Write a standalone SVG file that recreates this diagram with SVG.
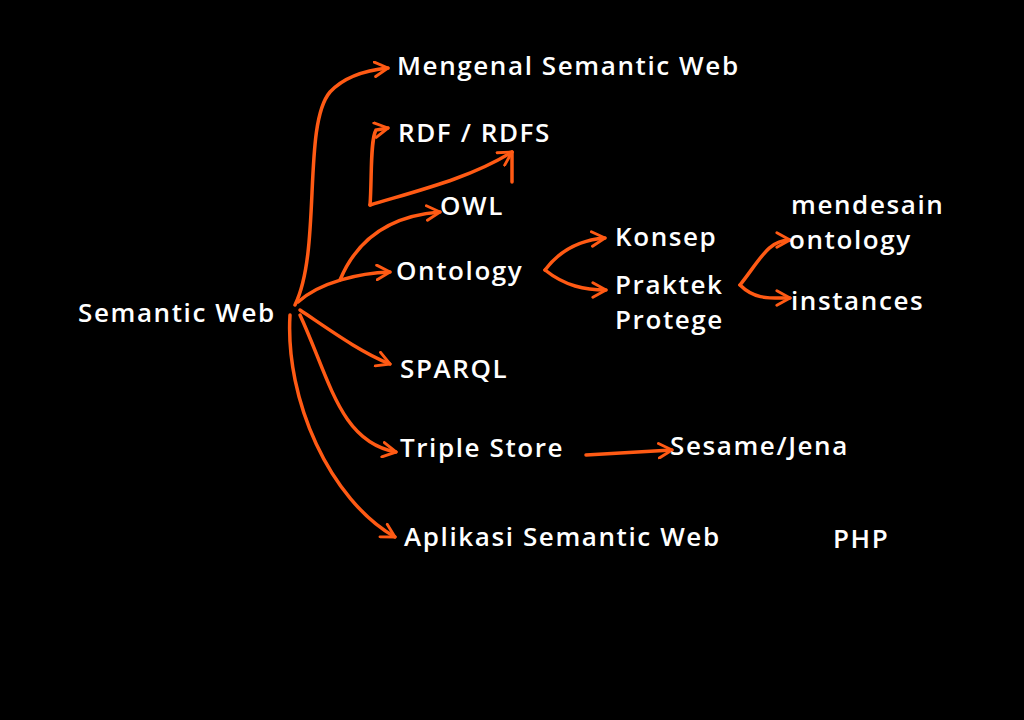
<svg xmlns="http://www.w3.org/2000/svg" width="1024" height="720" viewBox="0 0 1024 720">
<defs>
<marker id="ah" viewBox="0 0 12 12" refX="10" refY="6" markerWidth="5" markerHeight="5" orient="auto" markerUnits="strokeWidth">
<path d="M1,1 L10,6 L1,11" fill="none" stroke="#ff5a14" stroke-width="2" stroke-linecap="round" stroke-linejoin="round"/>
</marker>
</defs>
<style>
text{font-family:"Open Sans","DejaVu Sans",sans-serif;font-size:26px;fill:#fff;font-weight:600;letter-spacing:1.6px}
.c path{fill:none;stroke:#ff5a14;stroke-width:3.5;stroke-linecap:round}
.c .a{marker-end:url(#ah)}
</style>
<rect width="1024" height="720" fill="#000"/>
<g class="c" id="connectors">
<path class="a" d="M295,305 C322,250 302,125 330,92 C345,76 368,70 388,68"/>
<path class="a" d="M370,205 C372,180 370,140 376,130 L388,128"/>
<path class="a" d="M370,205 C420,190 470,178 512,152"/>
<path d="M512,182 L512,152"/>
<path class="a" d="M340,280 C360,232 400,215 440,212"/>
<path class="a" d="M298,302 C320,282 360,273 390,272"/>
<path class="a" d="M300,310 C330,330 360,352 390,364"/>
<path class="a" d="M300,315 C330,380 340,442 396,452"/>
<path class="a" d="M290,315 C285,400 330,500 395,537"/>
<path class="a" d="M545,270 C560,250 580,240 605,238"/>
<path class="a" d="M545,270 C565,286 585,290 606,290"/>
<path class="a" d="M740,285 C760,260 768,240 790,240"/>
<path class="a" d="M740,285 C755,300 770,298 790,298"/>
<path class="a" d="M586,455 L672,450"/>
</g>
<g id="n0"><text x="78" y="322">Semantic Web</text></g>
<g id="n1"><text x="397" y="75">Mengenal Semantic Web</text></g>
<g id="n2"><text x="398" y="142">RDF / RDFS</text></g>
<g id="n3"><text x="440" y="215">OWL</text></g>
<g id="n4"><text x="396" y="280">Ontology</text></g>
<g id="n5"><text x="400" y="378">SPARQL</text></g>
<g id="n6"><text x="400" y="457">Triple Store</text></g>
<g id="n7"><text x="404" y="546">Aplikasi Semantic Web</text></g>
<g id="n8"><text x="833" y="548">PHP</text></g>
<g id="n9"><text x="615" y="246">Konsep</text></g>
<g id="n10"><text x="615" y="294">Praktek</text><text x="615" y="329">Protege</text></g>
<g id="n11"><text x="791" y="214">mendesain</text><text x="789" y="249">ontology</text></g>
<g id="n12"><text x="791" y="310">instances</text></g>
<g id="n13"><text x="670" y="455">Sesame/Jena</text></g>
</svg>
